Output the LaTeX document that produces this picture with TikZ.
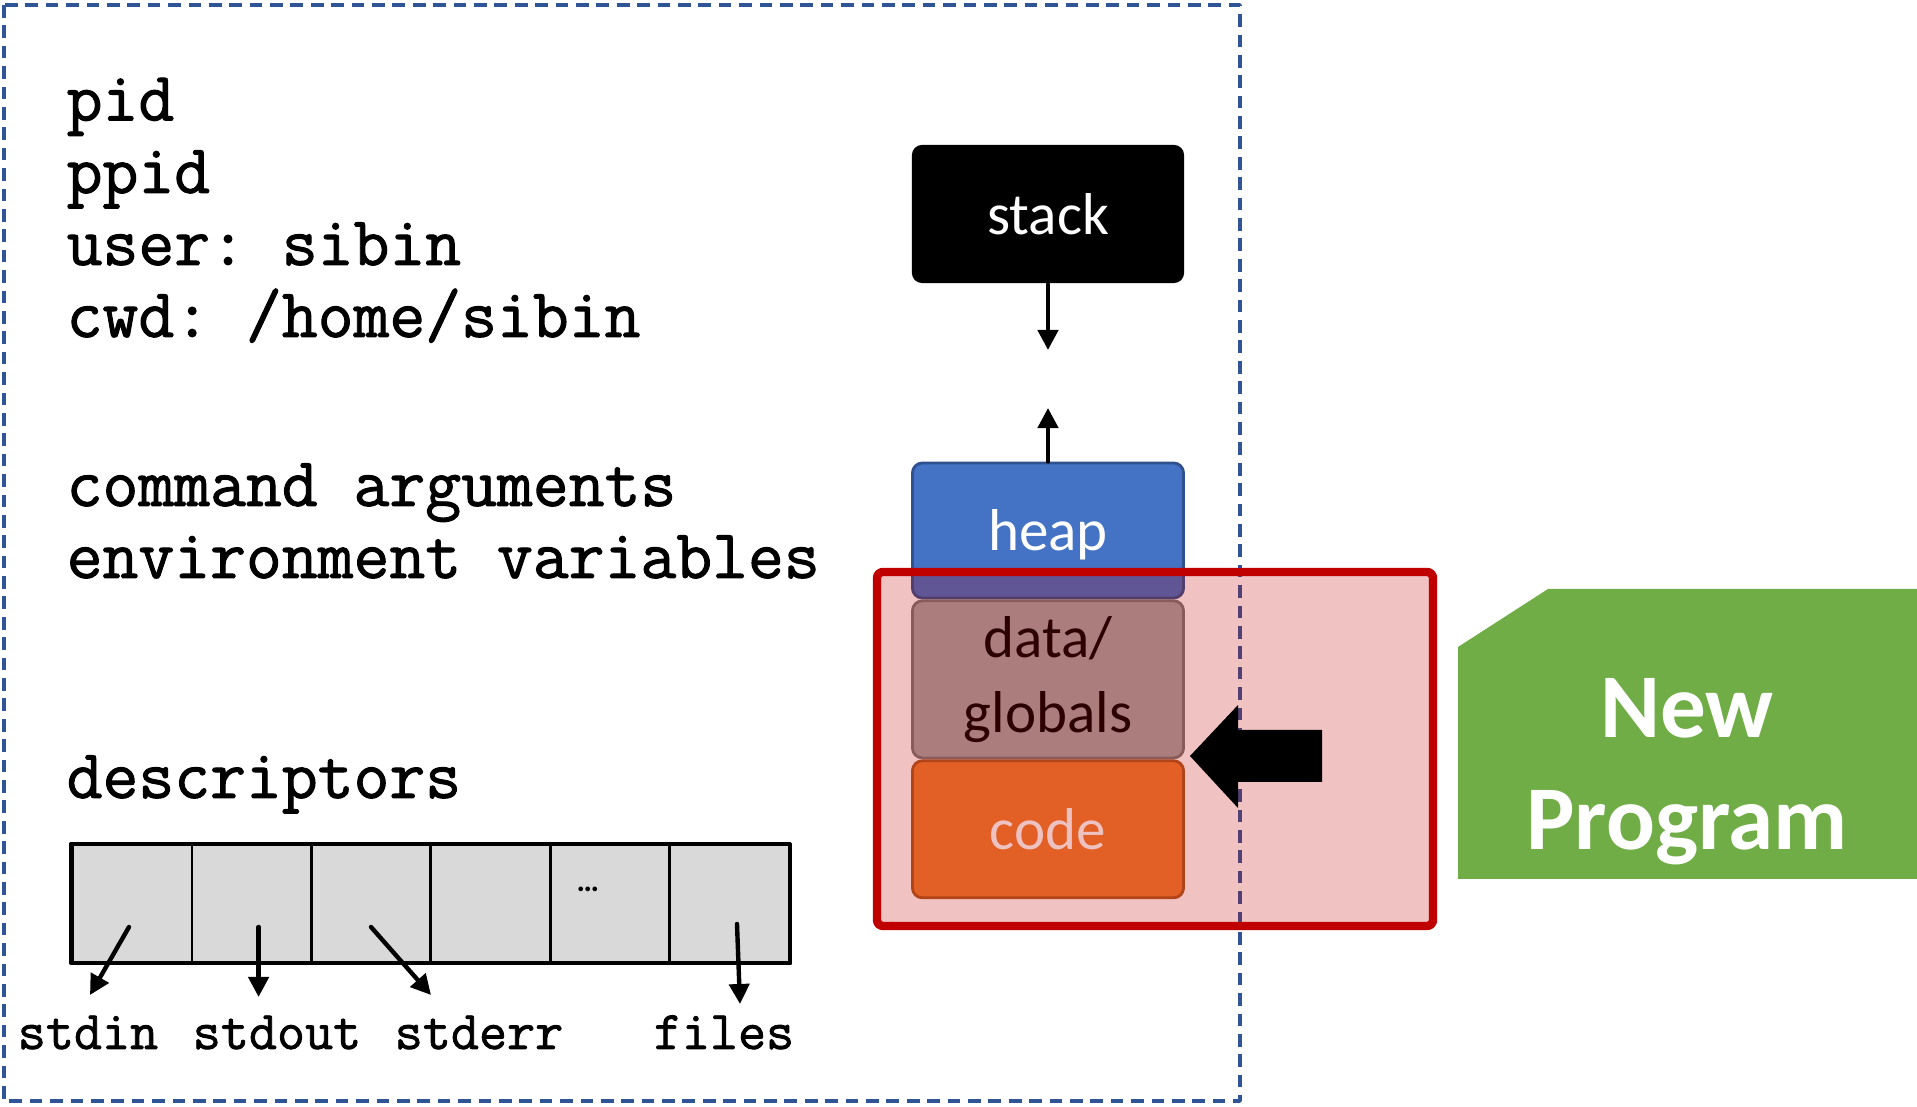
\documentclass[tikz,border=0pt]{standalone}
\usepackage{fontspec}
\setmainfont{Carlito}
\setmonofont{Latin Modern Mono}[FakeBold=1.4]
\usepackage{tikz}
\usetikzlibrary{positioning}
\usetikzlibrary{arrows.meta}
\definecolor{frameblue}{RGB}{47,85,151}
\definecolor{heapblue}{RGB}{68,114,196}
\definecolor{heapedge}{RGB}{47,82,143}
\definecolor{datagray}{RGB}{165,165,165}
\definecolor{dataedge}{RGB}{120,120,120}
\definecolor{codeorange}{RGB}{237,125,49}
\definecolor{codeedge}{RGB}{174,90,33}
\definecolor{newred}{RGB}{192,0,0}
\definecolor{progreen}{RGB}{112,173,71}
\definecolor{cellgray}{RGB}{217,217,217}
\tikzstyle{every node}=[inner sep=0pt]
\tikzstyle{proc}=[font=\ttfamily\fontsize{19.8}{23}\selectfont, anchor=base west]
\tikzstyle{fdlabel}=[font=\ttfamily\fontsize{15.5}{18}\selectfont, anchor=base]
\tikzstyle{cell}=[draw, fill=cellgray, line width=0.8pt, minimum width=1.194cm, minimum height=1.17cm]
\tikzstyle{membox}=[rounded corners=0.1cm, minimum width=2.71cm, text=white, font=\fontsize{16.8}{21.3}\selectfont, line width=0.8pt, align=center]
\tikzstyle{fdarrow}=[->, line width=1.25pt]

\begin{document}
\begin{tikzpicture}[line cap=round,line join=round,>={Triangle[length=0.2cm,width=0.2cm]},x=0.01cm,y=-0.01cm]
            \useasboundingbox (0,0) rectangle (1917,1107);
            \draw [frameblue, line width=1pt, line cap=butt, dash pattern=on 3.6pt off 2.2pt] (4,5) rectangle (1240,1101);
            % process info
            \node [proc] (pid) at (66,120.5) {pid};
            \node [proc] (ppid) at (66,193) {ppid};
            \node [proc] (user) at (66,265) {user: sibin};
            \node [proc] (cwd) at (66,337) {cwd: /home/sibin};
            \node [proc] (cmdargs) at (66,506) {command arguments};
            \node [proc] (envvars) at (66,578) {environment variables};
            \node [proc] (descr) at (66,798) {descriptors};
            % descriptor table
            \foreach \i in {1,...,6}
                \node [cell] (c\i) at ({72.6+(\i-0.5)*119.4},903.5) {};
            \draw [line width=1.1pt] (c1.north west) rectangle (c6.south east);
            \node [font=\bfseries\fontsize{9}{10}\selectfont] (dots) at (588,889) {…};
            \coordinate (instart) at (129,927);
            \coordinate (inend) at (90,995);
            \coordinate (outstart) at (258.6,927);
            \coordinate (outend) at (258.6,997);
            \coordinate (errstart) at (371,927);
            \coordinate (errend) at (431,995);
            \coordinate (filesstart) at (737,924);
            \coordinate (filesend) at (740,1004);
            \draw [fdarrow] (instart) -- (inend);
            \draw [fdarrow] (outstart) -- (outend);
            \draw [fdarrow] (errstart) -- (errend);
            \draw [fdarrow] (filesstart) -- (filesend);
            \node [fdlabel] (stdin) at (88,1049) {stdin};
            \node [fdlabel] (stdout) at (277,1049) {stdout};
            \node [fdlabel] (stderr) at (479,1049) {stderr};
            \node [fdlabel] (files) at (724,1049) {files};
            % memory layout
            \node [membox, fill=black, minimum height=1.38cm, minimum width=2.72cm] (stack) at (1048,214) {stack};
            \node [membox, fill=heapblue, draw=heapedge, minimum height=1.35cm, text depth=0pt] (heap) at (1048,530.5) {heap};
            \node [membox, fill=datagray, draw=dataedge, text=black, minimum height=1.57cm, below=0pt of heap] (data) {data/\\globals};
            \node [membox, fill=codeorange, draw=codeedge, minimum height=1.37cm, below=0pt of data] (code) {code};
            \coordinate (stackend) at (1048,350);
            \coordinate (heapend) at (1048,408);
            \draw [fdarrow] (stack) -- (stackend);
            \draw [fdarrow] (heap) -- (heapend);
            % new program
            \draw [newred, line width=2.4pt, fill=newred, fill opacity=0.24, rounded corners=0.06cm] (877,572) rectangle (1433,926);
            \fill [black] (1190,756) -- (1238,705) -- (1238,730) -- (1322,730) -- (1322,782) -- (1238,782) -- (1238,808) -- cycle;
            \fill [progreen] (1458,647) -- (1548,589) -- (1917,589) -- (1917,879) -- (1458,879) -- cycle;
            \node [font=\bfseries\fontsize{25.9}{31.9}\selectfont, text=white, align=center] (newprog) at (1687,772) {New\\Program};
            \end{tikzpicture}
\end{document}
